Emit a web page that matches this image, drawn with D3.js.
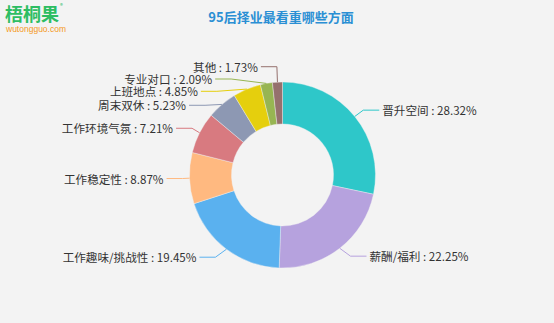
<!DOCTYPE html>
<html><head><meta charset="utf-8">
<script src="https://cdn.jsdelivr.net/npm/d3@7/dist/d3.min.js"></script>
<style>
html,body{margin:0;padding:0;background:#f3f3f3;}
svg{display:block;font-family:"Noto Sans CJK SC","Noto Sans",sans-serif;}
</style></head>
<body><svg id="c" width="554" height="323"></svg>
<script>
const categories = ["晋升空间","薪酬/福利","工作趣味/挑战性","工作稳定性","工作环境气氛","周末双休","上班地点","专业对口","其他"];
const values = [28.32, 22.25, 19.45, 8.87, 7.21, 5.23, 4.85, 2.09, 1.73];
const colors = ["#2ec7c9","#b6a2de","#5ab1ef","#ffb980","#d87a80","#8d98b3","#e5cf0d","#97b552","#95706d"];
const titleText = "95后择业最看重哪些方面";

const W = 554, H = 323;
const svg = d3.select("#c");
svg.append("rect").attr("width", W).attr("height", H).attr("fill", "#f3f3f3");

// logo
svg.append("text").attr("x", 5).attr("y", 21).attr("font-size", 18).attr("font-weight", "bold")
  .attr("fill", "#2dbd62").text("梧桐果");
svg.append("text").attr("x", 60).attr("y", 8).attr("font-size", 6).attr("fill", "#2dbd62").text("®");
svg.append("text").attr("x", 6).attr("y", 32).attr("font-size", 8.5).attr("fill", "#f39a1e")
  .attr("font-family", "Arial, 'Liberation Sans', sans-serif").text("wutongguo.com");

// title
svg.append("text").attr("x", 281).attr("y", 16).attr("text-anchor", "middle").attr("dominant-baseline", "central")
  .attr("font-size", 13).attr("font-weight", "bold").attr("fill", "#2a8fd4").text(titleText);

const cx = 282.5, cy = 175, r = 93, r0 = 51;
const len = 10, len2 = 16, gap = 3, lh = 12.3;

const data = categories.map((c, i) => ({name: c, value: values[i], color: colors[i]}));
const pie = d3.pie().sort(null).value(d => d.value).startAngle(0).endAngle(2 * Math.PI);
const arcs = pie(data);
const arc = d3.arc().innerRadius(r0).outerRadius(r);

const g = svg.append("g").attr("transform", `translate(${cx},${cy})`);
g.selectAll("path.s").data(arcs).join("path").attr("class", "s")
  .attr("d", arc).attr("fill", d => d.data.color).attr("stroke", "#f3f3f3").attr("stroke-width", 0.4);

// label layout (ECharts-like)
const labels = arcs.map(a => {
  const m = (a.startAngle + a.endAngle) / 2;
  const dx = Math.sin(m), dy = -Math.cos(m);
  const x1 = cx + dx * r, y1 = cy + dy * r;
  const x2 = cx + dx * (r + len), y2 = cy + dy * (r + len);
  const dir = dx < 0 ? -1 : 1;
  const x3 = x2 + dir * len2;
  return {d: a.data, dir, x1, y1, x2, y2, x3, y: y2, x: x3 + dir * gap};
});

function adjustSide(list, dir) {
  list.sort((a, b) => a.y - b.y);
  const n = list.length;
  function shiftUp(end, delta) {
    for (let j = end; j >= 0; j--) {
      list[j].y -= delta;
      if (j > 0 && list[j].y > list[j - 1].y + lh) break;
    }
  }
  function shiftDown(start, end, delta) {
    for (let j = start; j < end; j++) {
      list[j].y += delta;
      if (j > start && j + 1 < end && list[j + 1].y > list[j].y + lh) { shiftUp(j, delta / 2); return; }
    }
    shiftUp(end - 1, delta / 2);
  }
  let lastY = 0;
  for (let i = 0; i < n; i++) {
    const d = list[i].y - lastY;
    if (d < 0) shiftDown(i, n, -d);
    lastY = list[i].y + lh;
  }
  if (H - lastY < 0) shiftUp(n - 1, lastY - H);
  const up = list.filter(l => l.y < cy), down = list.filter(l => l.y >= cy);
  const R3 = r + len + len2;
  function changeX(arr, isDown) {
    let last = isDown ? Number.MAX_VALUE : 0;
    arr.forEach(l => {
      const ddy = Math.abs(l.y - cy);
      let ddx = ddy < r + len ? Math.sqrt(R3 * R3 - ddy * ddy) : Math.abs(l.x - cx);
      if (isDown && ddx >= last) ddx = last - 10;
      if (!isDown && ddx <= last) ddx = last + 10;
      l.x = cx + ddx * dir;
      last = ddx;
    });
  }
  changeX(up, false);
  changeX(down, true);
}
adjustSide(labels.filter(l => l.dir < 0), -1);
adjustSide(labels.filter(l => l.dir > 0), 1);
labels.forEach(l => {
  const dist = l.x2 - l.x3;
  l.x3 = l.x - l.dir * gap;
  l.x2 = l.x3 + dist;
  l.y2 = l.y;
});

svg.selectAll("polyline.ll").data(labels).join("polyline").attr("class", "ll")
  .attr("points", l => `${l.x1},${l.y1} ${l.x2},${l.y2} ${l.x3},${l.y}`)
  .attr("fill", "none").attr("stroke", l => l.d.color).attr("stroke-width", 1);

svg.selectAll("text.lb").data(labels).join("text").attr("class", "lb")
  .attr("x", l => l.x).attr("y", l => l.y)
  .attr("text-anchor", l => l.dir < 0 ? "end" : "start")
  .attr("dominant-baseline", "central")
  .attr("font-size", 11.6).attr("fill", "#333")
  .text(l => `${l.d.name} : ${l.d.value.toFixed(2)}%`);
</script></body></html>
